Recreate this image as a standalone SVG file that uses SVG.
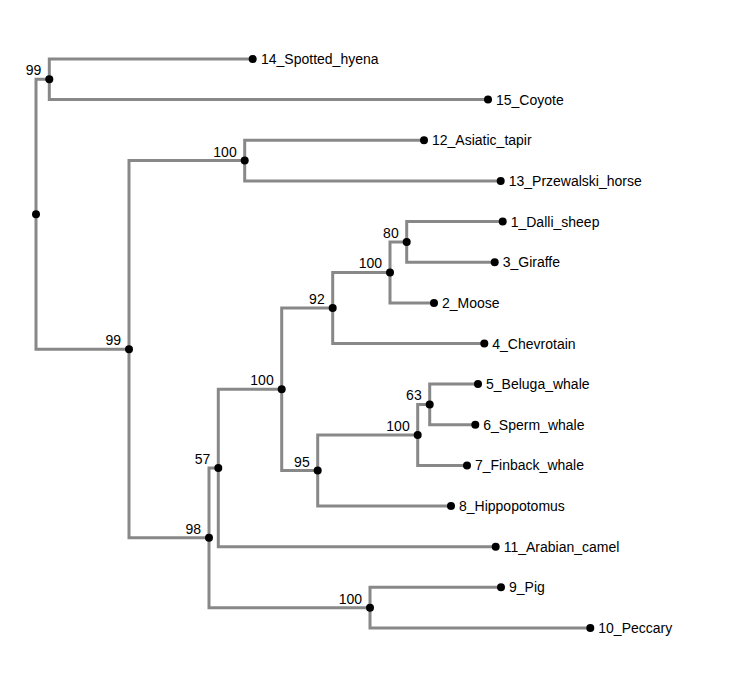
<svg xmlns="http://www.w3.org/2000/svg" width="751" height="689" viewBox="0 0 751 689">
<style>
.link{fill:none;stroke:#888;stroke-width:3}
.node circle{fill:#000}
.leaf text{font-family:"Liberation Sans",Arial,sans-serif;font-size:14px;fill:#000}
.boot{font-family:"Liberation Sans",Arial,sans-serif;font-size:14px;fill:#000;text-anchor:end}
</style>
<rect width="751" height="689" fill="#fff"/>
<g id="links">
<path class="link" d="M36,214.3V79.3H49.3"/>
<path class="link" d="M36,214.3V349.2H129"/>
<path class="link" d="M49.3,79.3V59H252.7"/>
<path class="link" d="M49.3,79.3V99.6H488"/>
<path class="link" d="M129,349.2V160.6H244.7"/>
<path class="link" d="M129,349.2V537.8H209"/>
<path class="link" d="M244.7,160.6V140.3H424"/>
<path class="link" d="M244.7,160.6V180.9H500.7"/>
<path class="link" d="M209,537.8V468H218.3"/>
<path class="link" d="M209,537.8V607.7H370"/>
<path class="link" d="M218.3,468V389.2H281.7"/>
<path class="link" d="M218.3,468V546.7H495.7"/>
<path class="link" d="M281.7,389.2V308H332.7"/>
<path class="link" d="M281.7,389.2V470.5H317.7"/>
<path class="link" d="M332.7,308V272.4H390"/>
<path class="link" d="M332.7,308V343.5H484.3"/>
<path class="link" d="M390,272.4V241.9H406.7"/>
<path class="link" d="M390,272.4V302.9H434"/>
<path class="link" d="M406.7,241.9V221.6H502.7"/>
<path class="link" d="M406.7,241.9V262.2H494.7"/>
<path class="link" d="M317.7,470.5V434.9H417.7"/>
<path class="link" d="M317.7,470.5V506H451"/>
<path class="link" d="M417.7,434.9V404.4H429.7"/>
<path class="link" d="M417.7,434.9V465.4H467"/>
<path class="link" d="M429.7,404.4V384.1H478"/>
<path class="link" d="M429.7,404.4V424.8H475.3"/>
<path class="link" d="M370,607.7V587.3H501"/>
<path class="link" d="M370,607.7V628H590.3"/>
</g>
<g id="n-root" class="node"><circle cx="36" cy="214.3" r="4"/></g>
<g id="n-carnivora" class="node"><circle cx="49.3" cy="79.3" r="4"/><text class="boot" x="41.3" y="75.3">99</text></g>
<g id="n-ungulates" class="node"><circle cx="129" cy="349.2" r="4"/><text class="boot" x="121" y="345.2">99</text></g>
<g id="n-perisso" class="node"><circle cx="244.7" cy="160.6" r="4"/><text class="boot" x="236.7" y="156.6">100</text></g>
<g id="n-cetartio" class="node"><circle cx="209" cy="537.8" r="4"/><text class="boot" x="201" y="533.8">98</text></g>
<g id="n-57" class="node"><circle cx="218.3" cy="468" r="4"/><text class="boot" x="210.3" y="464">57</text></g>
<g id="n-100a" class="node"><circle cx="281.7" cy="389.2" r="4"/><text class="boot" x="273.7" y="385.2">100</text></g>
<g id="n-92" class="node"><circle cx="332.7" cy="308" r="4"/><text class="boot" x="324.7" y="304">92</text></g>
<g id="n-100b" class="node"><circle cx="390" cy="272.4" r="4"/><text class="boot" x="382" y="268.4">100</text></g>
<g id="n-80" class="node"><circle cx="406.7" cy="241.9" r="4"/><text class="boot" x="398.7" y="237.9">80</text></g>
<g id="n-95" class="node"><circle cx="317.7" cy="470.5" r="4"/><text class="boot" x="309.7" y="466.5">95</text></g>
<g id="n-100c" class="node"><circle cx="417.7" cy="434.9" r="4"/><text class="boot" x="409.7" y="430.9">100</text></g>
<g id="n-63" class="node"><circle cx="429.7" cy="404.4" r="4"/><text class="boot" x="421.7" y="400.4">63</text></g>
<g id="n-100d" class="node"><circle cx="370" cy="607.7" r="4"/><text class="boot" x="362" y="603.7">100</text></g>
<g id="leaf-14" class="node leaf"><circle cx="252.7" cy="59" r="4"/><text x="261" y="64">14_Spotted_hyena</text></g>
<g id="leaf-15" class="node leaf"><circle cx="488" cy="99.6" r="4"/><text x="496" y="104.6">15_Coyote</text></g>
<g id="leaf-12" class="node leaf"><circle cx="424" cy="140.3" r="4"/><text x="432" y="145.3">12_Asiatic_tapir</text></g>
<g id="leaf-13" class="node leaf"><circle cx="500.7" cy="180.9" r="4"/><text x="508.7" y="185.9">13_Przewalski_horse</text></g>
<g id="leaf-1" class="node leaf"><circle cx="502.7" cy="221.6" r="4"/><text x="510.7" y="226.6">1_Dalli_sheep</text></g>
<g id="leaf-3" class="node leaf"><circle cx="494.7" cy="262.2" r="4"/><text x="502.7" y="267.2">3_Giraffe</text></g>
<g id="leaf-2" class="node leaf"><circle cx="434" cy="302.9" r="4"/><text x="442" y="307.9">2_Moose</text></g>
<g id="leaf-4" class="node leaf"><circle cx="484.3" cy="343.5" r="4"/><text x="492.3" y="348.5">4_Chevrotain</text></g>
<g id="leaf-5" class="node leaf"><circle cx="478" cy="384.1" r="4"/><text x="486" y="389.1">5_Beluga_whale</text></g>
<g id="leaf-6" class="node leaf"><circle cx="475.3" cy="424.8" r="4"/><text x="483.3" y="429.8">6_Sperm_whale</text></g>
<g id="leaf-7" class="node leaf"><circle cx="467" cy="465.4" r="4"/><text x="475" y="470.4">7_Finback_whale</text></g>
<g id="leaf-8" class="node leaf"><circle cx="451" cy="506" r="4"/><text x="459" y="511">8_Hippopotomus</text></g>
<g id="leaf-11" class="node leaf"><circle cx="495.7" cy="546.7" r="4"/><text x="503.7" y="551.7">11_Arabian_camel</text></g>
<g id="leaf-9" class="node leaf"><circle cx="501" cy="587.3" r="4"/><text x="509" y="592.3">9_Pig</text></g>
<g id="leaf-10" class="node leaf"><circle cx="590.3" cy="628" r="4"/><text x="598.3" y="633">10_Peccary</text></g>
</svg>
